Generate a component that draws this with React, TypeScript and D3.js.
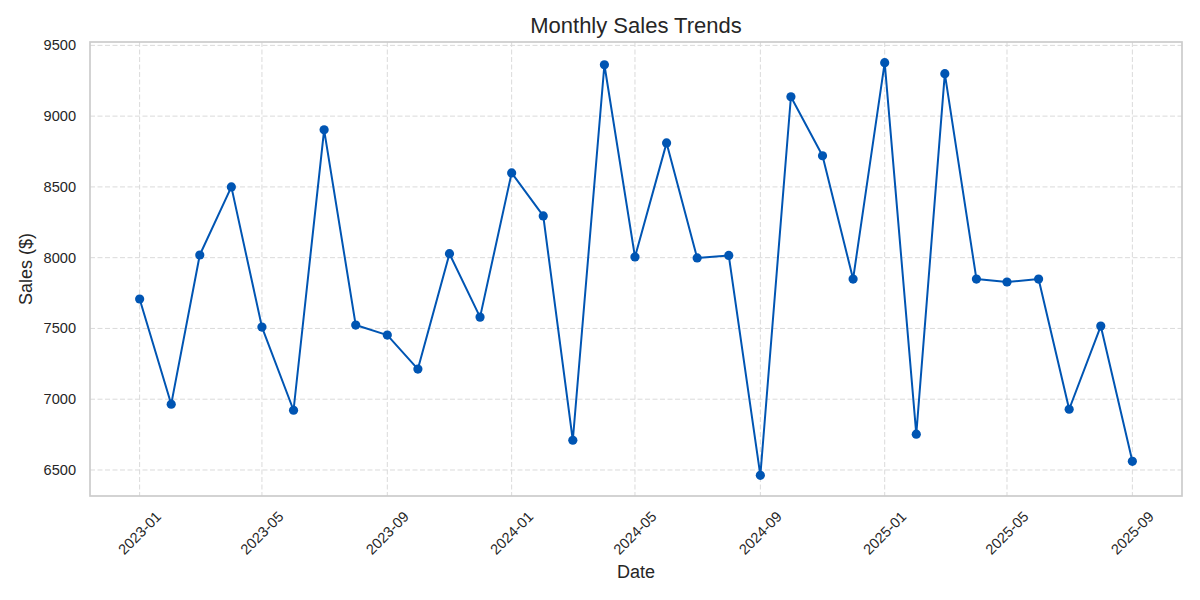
import { scaleLinear, scaleUtc, line, extent, utcParse } from "d3";

const months = [
  "2023-01", "2023-02", "2023-03", "2023-04", "2023-05", "2023-06", "2023-07", "2023-08", "2023-09",
  "2023-10", "2023-11", "2023-12", "2024-01", "2024-02", "2024-03", "2024-04", "2024-05", "2024-06",
  "2024-07", "2024-08", "2024-09", "2024-10", "2024-11", "2024-12", "2025-01", "2025-02", "2025-03",
  "2025-04", "2025-05", "2025-06", "2025-07", "2025-08", "2025-09",
];

const sales = [
  7708, 6965, 8019, 8500, 7510, 6922, 8903, 7524, 7453,
  7213, 8028, 7580, 8599, 8295, 6710, 9363, 8005, 8811,
  7998, 8016, 6462, 9137, 8720, 7849, 9378, 6753, 9300,
  7849, 7828, 7849, 6929, 7517, 6561,
];

const xTickLabels = [
  "2023-01", "2023-05", "2023-09", "2024-01", "2024-05", "2024-09", "2025-01", "2025-05", "2025-09",
];

const yTicks = [6500, 7000, 7500, 8000, 8500, 9000, 9500];

const WIDTH = 1200;
const HEIGHT = 600;
const PLOT_LEFT = 90;
const PLOT_RIGHT = 1182;
const PLOT_TOP = 42;
const PLOT_BOTTOM = 496;
const LINE_COLOR = "#0055b3";
const TEXT_COLOR = "#262626";
const FONT = "'Liberation Sans', Arial, sans-serif";

const parseMonth = utcParse("%Y-%m");

type Point = { date: Date; value: number };

export default function App() {
  const points: Point[] = months.map((m, i) => ({ date: parseMonth(m) as Date, value: sales[i] }));

  const [d0, d1] = extent(points, (p) => p.date.getTime()) as [number, number];
  const dPad = (d1 - d0) * 0.05;
  const xScale = scaleUtc()
    .domain([new Date(d0 - dPad), new Date(d1 + dPad)])
    .range([PLOT_LEFT, PLOT_RIGHT]);

  const [v0, v1] = extent(points, (p) => p.value) as [number, number];
  const vPad = (v1 - v0) * 0.05;
  const yScale = scaleLinear().domain([v0 - vPad, v1 + vPad]).range([PLOT_BOTTOM, PLOT_TOP]);

  const path = line<Point>()
    .x((p) => xScale(p.date))
    .y((p) => yScale(p.value))(points);

  const xTicks = xTickLabels.map((label) => ({ label, x: xScale(parseMonth(label) as Date) }));

  return (
    <svg
      width={WIDTH}
      height={HEIGHT}
      viewBox={`0 0 ${WIDTH} ${HEIGHT}`}
      style={{ position: "absolute", left: 0, top: 0, background: "#fff" }}
      fontFamily={FONT}
    >
      <rect x={0} y={0} width={WIDTH} height={HEIGHT} fill="#fff" />

      {/* grid */}
      {yTicks.map((t) => (
        <line
          key={`gy${t}`}
          x1={PLOT_LEFT}
          x2={PLOT_RIGHT}
          y1={yScale(t)}
          y2={yScale(t)}
          stroke="#dadada"
          strokeWidth={1}
          strokeDasharray="5 2.5"
        />
      ))}
      {xTicks.map((t) => (
        <line
          key={`gx${t.label}`}
          x1={t.x}
          x2={t.x}
          y1={PLOT_TOP}
          y2={PLOT_BOTTOM}
          stroke="#dadada"
          strokeWidth={1}
          strokeDasharray="5 2.5"
        />
      ))}

      {/* frame */}
      <rect
        x={PLOT_LEFT}
        y={PLOT_TOP}
        width={PLOT_RIGHT - PLOT_LEFT}
        height={PLOT_BOTTOM - PLOT_TOP}
        fill="none"
        stroke="#cccccc"
        strokeWidth={1.7}
      />

      {/* series */}
      {path ? <path d={path} fill="none" stroke={LINE_COLOR} strokeWidth={2} strokeLinejoin="round" /> : null}
      {points.map((p, i) => (
        <circle key={i} cx={xScale(p.date)} cy={yScale(p.value)} r={4.6} fill={LINE_COLOR} />
      ))}

      {/* y tick labels */}
      {yTicks.map((t) => (
        <text
          key={`ty${t}`}
          x={76}
          y={yScale(t)}
          textAnchor="end"
          dominantBaseline="central"
          fontSize={14.6}
          fill={TEXT_COLOR}
        >
          {t}
        </text>
      ))}

      {/* x tick labels */}
      {xTicks.map((t) => (
        <text
          key={`tx${t.label}`}
          transform={`translate(${t.x},${PLOT_BOTTOM + 37}) rotate(-45)`}
          textAnchor="middle"
          dominantBaseline="central"
          fontSize={14.6}
          fill={TEXT_COLOR}
        >
          {t.label}
        </text>
      ))}

      {/* titles */}
      <text
        x={(PLOT_LEFT + PLOT_RIGHT) / 2}
        y={33}
        textAnchor="middle"
        fontSize={22}
        fill={TEXT_COLOR}
      >
        Monthly Sales Trends
      </text>
      <text
        x={(PLOT_LEFT + PLOT_RIGHT) / 2}
        y={578}
        textAnchor="middle"
        fontSize={18}
        fill={TEXT_COLOR}
      >
        Date
      </text>
      <text
        transform={`translate(32,${(PLOT_TOP + PLOT_BOTTOM) / 2}) rotate(-90)`}
        textAnchor="middle"
        fontSize={18}
        fill={TEXT_COLOR}
      >
        Sales ($)
      </text>
    </svg>
  );
}
